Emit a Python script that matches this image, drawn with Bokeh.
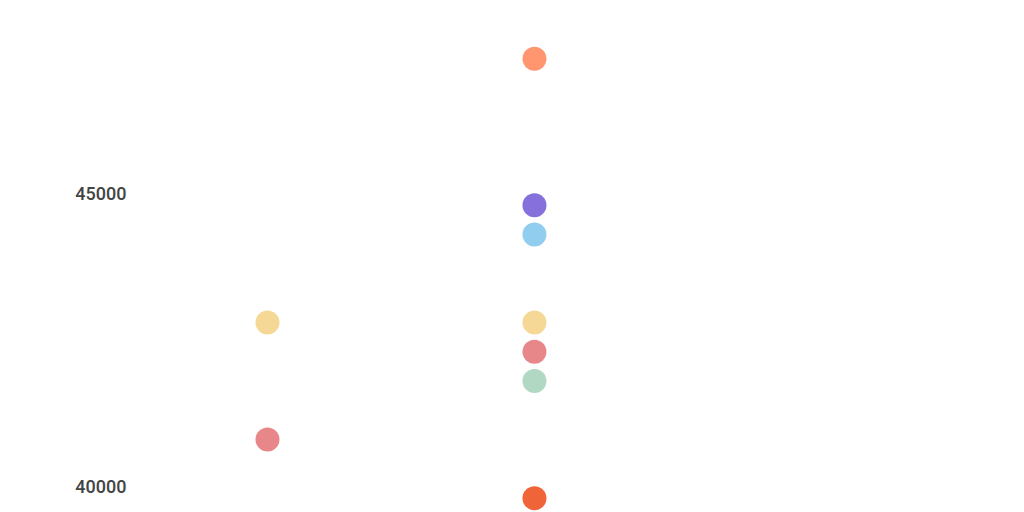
from bokeh.plotting import figure
from bokeh.models import FixedTicker, Range1d, ColumnDataSource
from bokeh.embed import file_html
from bokeh.resources import INLINE

# data
groups = [2, 2, 2, 2, 2, 2, 2, 1, 1]
values = [47300, 44800, 44300, 42800, 42300, 41800, 39800, 42800, 40800]
colors = ["#FF9670", "#8670DC", "#90CDEF", "#F5D895", "#E8878A", "#B0D8C2",
          "#F0643A", "#F5D895", "#E8878A"]
y_ticks = [40000, 45000]

src = ColumnDataSource(dict(x=groups, y=values, c=colors))

p = figure(width=1016, height=512, output_backend="svg", toolbar_location=None,
           x_axis_location=None, y_axis_location="left",
           x_range=Range1d(0.5169, 3.768), y_range=Range1d(39556, 48157),
           min_border_left=138, min_border_right=10, min_border_top=8,
           min_border_bottom=0)
p.outline_line_color = None
p.xgrid.visible = False
p.ygrid.visible = False

p.scatter("x", "y", source=src, size=24, fill_color="c", line_color=None)

ax = p.yaxis[0]
ax.ticker = FixedTicker(ticks=y_ticks)
ax.axis_line_color = None
ax.major_tick_line_color = None
ax.minor_tick_line_color = None
ax.major_tick_out = 0
ax.major_tick_in = 0
ax.minor_tick_out = 0
ax.major_label_standoff = 12
ax.major_label_text_font = "Roboto Medium, Roboto"
ax.major_label_text_font_size = "18px"
ax.major_label_text_color = "#444444"

open("out.html", "w").write(file_html(p, INLINE))
